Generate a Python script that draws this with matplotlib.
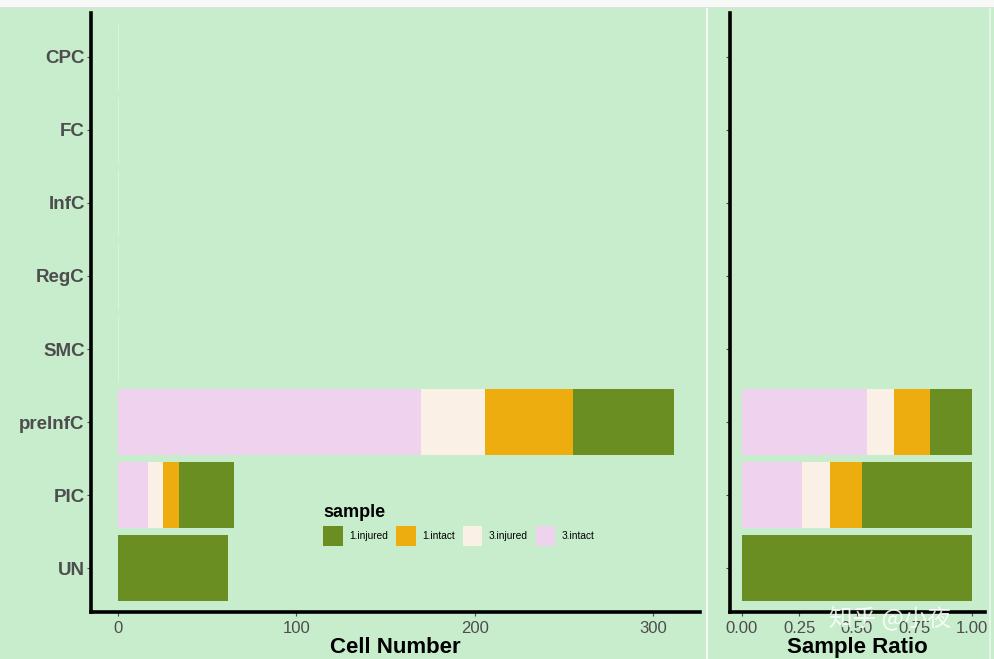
import numpy as np
import matplotlib
matplotlib.use("Agg")
import matplotlib.pyplot as plt
from matplotlib.patches import Patch
from matplotlib.lines import Line2D

plt.rcParams['font.family'] = ['Liberation Sans', 'DejaVu Sans']

# data (cell counts per cluster and sample)
clusters = ['UN', 'PIC', 'preInfC', 'SMC', 'RegC', 'InfC', 'FC', 'CPC']
samples = ['3.intact', '3.injured', '1.intact', '1.injured']
counts = {
    '3.intact':  [0, 17, 170, 0, 0, 0, 0, 0],
    '3.injured': [0, 8, 36, 0, 0, 0, 0, 0],
    '1.intact':  [0, 9, 49, 0, 0, 0, 0, 0],
    '1.injured': [62, 31, 57, 0, 0, 0, 0, 0],
}
colors = {'1.injured': '#6B8E23', '1.intact': '#EEAD0E',
          '3.injured': '#FAF0E6', '3.intact': '#EED2EE'}
legend_order = ['1.injured', '1.intact', '3.injured', '3.intact']
x_ticks_left = [0, 100, 200, 300]
x_ticks_right = [0.0, 0.25, 0.5, 0.75, 1.0]

bg = '#C7EDCC'
fig = plt.figure(figsize=(9.94, 6.59), dpi=100, facecolor=bg)
W, H = 994, 659

def px_axes(x0, y0, x1, y1):
    return fig.add_axes([x0 / W, 1 - y1 / H, (x1 - x0) / W, (y1 - y0) / H])

ax1 = px_axes(91, 13, 700, 612)
ax2 = px_axes(730, 13, 985, 612)

y = np.arange(len(clusters))
tot = np.zeros(len(clusters))
for s in samples:
    tot += np.array(counts[s], dtype=float)

for ax, ratio in [(ax1, False), (ax2, True)]:
    ax.set_facecolor(bg)
    left = np.zeros(len(clusters))
    for s in samples:
        v = np.array(counts[s], dtype=float)
        if ratio:
            v = np.divide(v, tot, out=np.zeros_like(v), where=tot > 0)
        ax.barh(y, v, left=left, height=0.9, color=colors[s], linewidth=0)
        left += v
    ax.set_ylim(-0.6, len(clusters) - 0.4)
    ax.set_yticks(y)
    for side in ['top', 'right']:
        ax.spines[side].set_visible(False)
    for side in ['left', 'bottom']:
        ax.spines[side].set_linewidth(2.6)
        ax.spines[side].set_color('black')
    ax.tick_params(axis='both', colors='#4D4D4D', length=3, width=0.8,
                   labelsize=12, labelcolor='#4D4D4D')
    ax.tick_params(axis='y', pad=1.5)

# faint marks for empty clusters
empty = [i for i in range(len(clusters)) if tot[i] == 0]
ax1.barh([y[i] for i in empty], [0] * len(empty), height=0.9,
         edgecolor='#DCF2DF', linewidth=0.8)

ax1.set_xlim(-15.1, 326.4)
ax1.set_xticks(x_ticks_left)
ax1.set_yticklabels(clusters, fontweight='bold', fontsize=13.5)
ax1.set_xlabel('Cell Number', fontsize=16, fontweight='bold', labelpad=1)

ax2.set_xlim(-0.05, 1.055)
ax2.set_xticks(x_ticks_right)
ax2.set_xticklabels(['%.2f' % t for t in x_ticks_right])
ax2.set_yticklabels([])
ax2.set_xlabel('Sample Ratio', fontsize=16, fontweight='bold', labelpad=1)

handles = [Patch(facecolor=colors[s], edgecolor='none', label=s) for s in legend_order]
leg = fig.legend(handles=handles, title='sample', ncol=4, frameon=False,
                 loc='upper left', bbox_to_anchor=(316 / W, 1 - 497 / H),
                 fontsize=7.3, title_fontproperties={'weight': 'bold', 'size': 13},
                 handlelength=1.95, handleheight=2.6, handletextpad=0.65,
                 columnspacing=0.75, alignment='left', borderpad=0.2)

# panel separators and top strip
fig.add_artist(Line2D([707 / W, 707 / W], [0, 1 - 7 / H], color='white', lw=1.2))
fig.add_artist(Line2D([990 / W, 990 / W], [0, 1 - 7 / H], color='#E8F6EA', lw=1.2))
fig.patches.append(plt.Rectangle((0, 1 - 6 / H), 1, 6 / H, transform=fig.transFigure,
                                 color='#F7F9F7', zorder=5))
fig.add_artist(Line2D([0, 1], [1 - 6.5 / H, 1 - 6.5 / H], color='#D6D9D6', lw=0.8))

# watermark
fig.text(890 / W, 1 - 618 / H, '知乎 @小夜', ha='center', va='center', fontsize=17,
         color='white', alpha=0.85, family=['Noto Sans CJK SC', 'DejaVu Sans'])

fig.savefig('out.png', dpi=100, facecolor=bg)
